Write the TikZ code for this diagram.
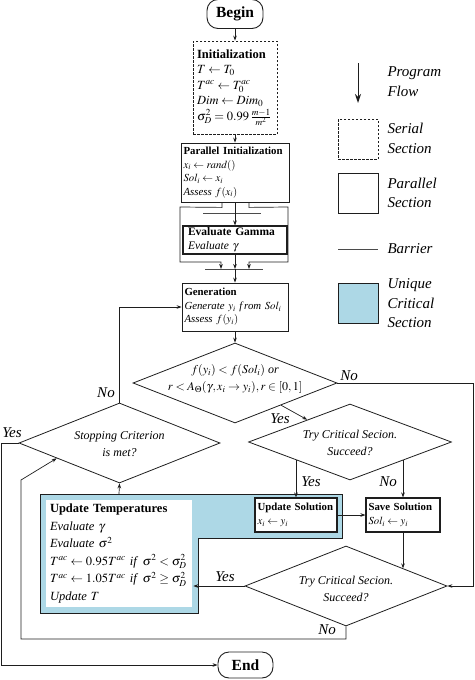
\documentclass[tikz,border=0pt]{standalone}
\usepackage{mathptmx}
\usepackage{fontspec}
\setmainfont{Liberation Serif}
\usetikzlibrary{shapes.geometric,arrows.meta,calc}
\definecolor{dk}{RGB}{30,30,30}
\definecolor{lb}{RGB}{173,216,230}
\newcommand{\mi}[1]{\mathit{#1}}
\newcommand{\mb}[1]{\mbox{#1}}
\tikzset{
 ln/.style={draw=dk, line width=0.7pt},
 arr/.style={ln, -{Stealth[length=5pt,width=3.6pt]}},
 bx/.style={draw=dk, line width=0.8pt, inner xsep=2.5pt, inner ysep=1.5pt, align=left, font=\fontsize{10.8}{13.5}\selectfont},
 dia/.style={draw=dk, line width=0.8pt, diamond, inner sep=0pt},
 dtext/.style={align=center, font=\fontsize{12}{17}\selectfont\itshape},
 lab/.style={font=\fontsize{15}{17}\selectfont\itshape},
 term/.style={draw=dk, line width=0.9pt, rounded corners=11pt, font=\fontsize{15.5}{18}\selectfont\bfseries},
 legtxt/.style={anchor=west, align=left, font=\fontsize{15}{19.5}\selectfont\itshape},
 barrier/.style={draw=dk!80, line width=0.8pt},
}
\begin{document}
\begin{tikzpicture}[x=1pt,y=-1pt]
\useasboundingbox (0,0) rectangle (474,680);

% terminals
\node[term, minimum width=56pt, minimum height=29pt] (begin) at (235,14) {Begin};
\node[term, minimum width=55pt, minimum height=26pt] (end) at (245.5,665) {End};

% initialization (serial)
\node[bx, inner xsep=4pt, dashed, dash pattern=on 2.5pt off 1.5pt, text width=76pt, minimum height=93pt,
      font=\fontsize{12.5}{15.5}\selectfont] (init) at (235,87.5)
 {\mb{\textbf{Initialization}}\\
  $T \leftarrow T_0$\\
  $T^{ac} \leftarrow T_0^{ac}$\\
  $\mi{Dim} \leftarrow \mi{Dim}_0$\\
  $\sigma_D^2 = 0.99\,\frac{m-1}{m^2}$};

% parallel initialization
\node[bx, text width=103pt, minimum height=59pt] (parinit) at (235,172.5)
 {\mb{\textbf{Parallel Initialization}}\\
  $x_i \leftarrow \mi{rand}()$\\
  $\mi{Sol}_i \leftarrow x_i$\\
  \textit{Assess} $f(x_i)$};

% evaluate gamma
\node[bx, inner xsep=5pt, line width=1.1pt, inner ysep=1pt, text width=94pt, minimum height=28pt,
      font=\fontsize{11.5}{14}\selectfont] (gamma) at (235,240)
 {\mb{\textbf{Evaluate Gamma}}\\ \textit{Evaluate} $\gamma$};

% generation
\node[bx, text width=101pt, minimum height=48pt] (gen) at (235,307)
 {\mb{\textbf{Generation}}\\
  \mb{\textit{Generate} $y_i$ \textit{f\,rom} $\mi{Sol}_i$}\\
  \textit{Assess} $f(y_i)$};

% diamonds
\node[dia, minimum width=204pt, minimum height=80pt] (d1) at (235,383) {};
\node[dtext] (d1t) at (235,379) {$f(y_i) < f(\mi{Sol}_i)$ \textit{or}\\ $r < A_\Theta(\gamma, x_i \rightarrow y_i), r \in [0,1]$};
\node[dia, minimum width=203pt, minimum height=76pt] (d2) at (350,442) {};
\node[dtext] (d2t) at (350,442.5) {Try Critical Secion.\\ Succeed?};
\node[dia, minimum width=201pt, minimum height=80pt] (stop) at (119.5,443) {};
\node[dtext] (stopt) at (119.5,444) {Stopping Criterion\\ is met?};
\node[dia, minimum width=202pt, minimum height=80pt] (d3) at (346,586) {};
\node[dtext] (d3t) at (346,588.5) {Try Critical Secion.\\ Succeed?};

% unique critical section region
\path[fill=lb, draw=dk, line width=0.8pt] (40,494) -- (342,494) -- (342,538) -- (198,538) -- (198,613) -- (40,613) -- cycle;
\node[bx, inner xsep=5pt, fill=white, line width=0.6pt, double=lb, double distance=1.4pt, text width=138pt, minimum height=109pt,
      font=\fontsize{12.5}{17.5}\selectfont] (updT) at (119,553.5)
 {\mb{\textbf{Update Temperatures}}\\
  \textit{Evaluate} $\gamma$\\
  \textit{Evaluate} $\sigma^2$\\
  \mb{$T^{ac} \leftarrow 0.95T^{ac}$ \textit{if} $\sigma^2 < \sigma_D^2$}\\
  \mb{$T^{ac} \leftarrow 1.05T^{ac}$ \textit{if} $\sigma^2 \geq \sigma_D^2$}\\
  \textit{Update} $T$};
\node[bx, fill=white, line width=1.2pt, inner xsep=2.5pt, text width=77pt, minimum height=34pt,
      font=\fontsize{10.8}{14}\selectfont] (updS) at (296,515)
 {\mb{\textbf{Update Solution}}\\ $x_i \leftarrow y_i$};
\node[bx, line width=1.1pt, inner xsep=2.5pt, text width=69pt, minimum height=34pt,
      font=\fontsize{10.8}{14}\selectfont] (saveS) at (403,515)
 {\mb{\textbf{Save Solution}}\\ $\mi{Sol}_i \leftarrow y_i$};

% barriers and parallel frame
\coordinate (b1l) at (203,213); \coordinate (b1r) at (261,213);
\coordinate (b2l) at (205,269); \coordinate (b2r) at (263,269);
\coordinate (b2c) at (235,269);
\draw[barrier] (b1l) -- (b1r);
\draw[barrier] (b2l) -- (b2r);
\draw[arr] ([xshift=-13pt]parinit.south) -- ++(0,5) -- (180,207) -- (180,262) -- (221,262) -- (221,269);
\draw[arr] ([xshift=14pt]parinit.south) -- ++(0,5) -- (288,207) -- (288,262) -- (249,262) -- (249,269);

% main flow
\draw[arr] (begin) -- (init);
\draw[arr] (init) -- (parinit);
\draw[arr] (parinit) -- (gamma);
\draw[arr] (gamma) -- (b2c);
\draw[arr] (b2c) -- (gen);
\draw[arr] (gen) -- (d1);

% d1 no
\draw[arr] (d1.east) -- (473,383) -- (473,586) -- (d3.east);
\node[lab] (n1) at (349,376) {No};
% d1 yes
\coordinate (y1a) at ($(d1.south)!0.45!(d1.east)$);
\coordinate (y1b) at ($(d2.west)!0.58!(d2.north)$);
\draw[arr] (y1a) -- (y1b);
\node[lab] (y1) at (280,419) {Yes};

% d2 yes / no
\coordinate (y2a) at ($(d2.west)!0.47!(d2.south)$);
\draw[arr] (updS.north |- y2a) -- (updS.north);
\node[lab] (y2) at (311,482) {Yes};
\coordinate (n2a) at ($(d2.south)!0.524!(d2.east)$);
\draw[arr] (saveS.north |- n2a) -- (saveS.north);
\node[lab] (n2) at (388,482) {No};

% update -> save
\draw[arr] (updS.east) -- (saveS.west);
% save -> d3
\coordinate (s3) at ($(d3.north)!0.564!(d3.east)$);
\draw[arr] (saveS.south) -- (saveS.south |- s3);

% d3 yes
\draw[arr] (d3.west) -- (d3.west -| updT.east);
\node[lab] (y3) at (225,577) {Yes};
% d3 no
\coordinate (st1) at ($(stop.west)!0.378!(stop.south)$);
\draw[arr] (d3.south) -- (346,639) -- (21,639) -- (21,480) -- (st1);
\node[lab] (n3) at (327,630) {No};

% update temps -> stop
\draw[arr] (119,494) -- (stop.south);
% stop no
\draw[arr] (stop.north) |- (gen.west);
\node[lab] (n4) at (106,393) {No};
% stop yes
\draw[arr] (stop.west) -- (1,443) -- (1,665) -- (end.west);
\node[lab] (y4) at (12,433) {Yes};

% legend
\coordinate (lgA1) at (358,63); \coordinate (lgA2) at (358,103);
\draw[draw=dk, line width=1pt, -{Stealth[length=9pt,width=6pt]}] (lgA1) -- (lgA2);
\node[legtxt] (lgT1) at (384,81.5) {Program\\ Flow};
\node[draw=dk, line width=0.8pt, dashed, dash pattern=on 2.5pt off 1.5pt, minimum width=40pt, minimum height=40pt, inner sep=0pt] (lgS) at (358,139) {};
\node[legtxt] (lgT2) at (384,138.5) {Serial\\ Section};
\node[draw=dk, line width=0.8pt, minimum width=40pt, minimum height=40pt, inner sep=0pt] (lgP) at (358,193) {};
\node[legtxt] (lgT3) at (384,193) {Parallel\\ Section};
\coordinate (lgB1) at (338,249); \coordinate (lgB2) at (378,249);
\draw[barrier] (lgB1) -- (lgB2);
\node[legtxt] (lgT4) at (384,249) {Barrier};
\node[draw=dk, fill=lb, line width=0.8pt, minimum width=40pt, minimum height=40pt, inner sep=0pt] (lgU) at (358,303) {};
\node[legtxt] (lgT5) at (384,303.5) {Unique\\ Critical\\ Section};
\end{tikzpicture}
\end{document}
